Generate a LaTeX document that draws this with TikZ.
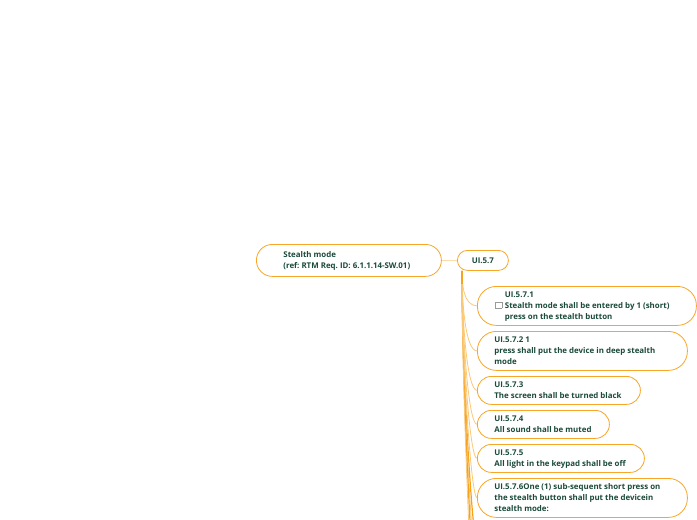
\documentclass[tikz,border=0pt]{standalone}
\usepackage{fontspec}
\setmainfont{Open Sans}
\frenchspacing
\definecolor{txt}{HTML}{1B4A3A}
\definecolor{bord}{HTML}{F8A627}
\definecolor{conn}{HTML}{FAC876}
\definecolor{connd}{HTML}{F7A21B}
\definecolor{connl}{HTML}{FCDCA8}
\newcommand\mmtext[2]{\makebox[#1][l]{\begin{tabular}{@{}l@{}}#2\end{tabular}}}
\newcommand\chkbox{\textcolor{gray!80}{\setlength\fboxrule{0.5pt}\setlength\fboxsep{0pt}\framebox{\rule{0pt}{6pt}\rule{6pt}{0pt}}}}
\tikzset{
  mm/.style={draw=bord, line width=0.8pt, fill=white, text=txt,
    font=\fontsize{7.9}{11}\selectfont\bfseries\frenchspacing, anchor=north west, inner ysep=0pt},
  cline/.style={draw=conn, line width=0.8pt},
  cthick/.style={draw=connd, line width=1.2pt},
}
\begin{document}
\begin{tikzpicture}[x=1pt,y=-1pt]
\useasboundingbox (0,0) rectangle (697,520);
\clip (0,0) rectangle (697,520);

\node[mm, minimum width=185pt, minimum height=32pt, inner xsep=27pt, rounded corners=16pt] (root) at (256,244)
  {\mmtext{131pt}{Stealth mode\\(ref: RTM Req. ID: 6.1.1.14-SW.01)}};
\node[mm, minimum width=51pt, minimum height=20pt, inner xsep=4pt, rounded corners=10pt] (ui) at (457,250)
  {\makebox[43pt]{UI.5.7}};

\node[mm, minimum width=219pt, minimum height=39pt, inner xsep=18pt, rounded corners=19pt] (n1) at (477,286)
  {\mmtext{183pt}{\hspace*{9.5pt}UI.5.7.1\\\chkbox\hspace{2.5pt}Stealth mode shall be entered by 1 (short)\\\hspace*{9.5pt}press on the stealth button}};
\node[mm, minimum width=210pt, minimum height=39pt, inner xsep=17pt, rounded corners=19pt] (n2) at (477,331)
  {\mmtext{176pt}{UI.5.7.2 1\\press shall put the device in deep stealth\\mode}};
\node[mm, minimum width=163pt, minimum height=28pt, inner xsep=17pt, rounded corners=14pt] (n3) at (477,376)
  {\mmtext{129pt}{UI.5.7.3\\The screen shall be turned black}};
\node[mm, minimum width=132pt, minimum height=28pt, inner xsep=17pt, rounded corners=14pt] (n4) at (477,410)
  {\mmtext{98pt}{UI.5.7.4\\All sound shall be muted}};
\node[mm, minimum width=167pt, minimum height=28pt, inner xsep=17pt, rounded corners=14pt] (n5) at (477,444)
  {\mmtext{133pt}{UI.5.7.5\\All light in the keypad shall be off}};
\node[mm, minimum width=210pt, minimum height=39pt, inner xsep=17pt, rounded corners=19pt] (n6) at (477,478)
  {\mmtext{176pt}{UI.5.7.6One (1) sub-sequent short press on\\the stealth button shall put the devicein\\stealth mode:}};

\coordinate (hub) at ([xshift=5pt]ui.south west);
\coordinate (o1) at (477,545);
\coordinate (o2) at (477,585);
\coordinate (o3) at (477,630);
\coordinate (o4) at (477,680);

\draw[draw=connl, line width=1pt] (root.east) -- (ui.west);

\draw[cthick] (hub) .. controls (462,380) and (473,545) .. (o1);
\draw[cline]  (hub) .. controls (462,396) and (474.6,585) .. (o2);
\draw[cthick] (hub) .. controls (462,414) and (476,630) .. (o3);
\draw[cline]  (hub) .. controls (462,434) and (476.5,680) .. (o4);

\draw[cline] (hub) .. controls (462,284.2) and (463.4,305.5) .. (n1.west);
\draw[cline] (hub) .. controls (462,302.2) and (465.2,350.5) .. (n2.west);
\draw[cline] (hub) .. controls (462,318) and (466.8,390) .. (n3.west);
\draw[cline] (hub) .. controls (462,331.6) and (468.2,424) .. (n4.west);
\draw[cline] (hub) .. controls (462,345.2) and (469.5,458) .. (n5.west);
\draw[cline] (hub) .. controls (462,361) and (471.1,497.5) .. (n6.west);

\draw[draw=connd, line width=2pt] (hub) -- ++(0,13);
\end{tikzpicture}
\end{document}
